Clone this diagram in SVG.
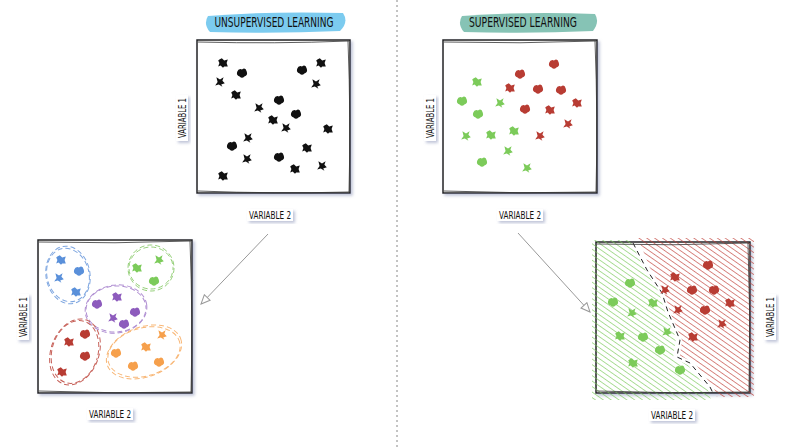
<svg xmlns="http://www.w3.org/2000/svg" width="800" height="447" viewBox="0 0 800 447">
<style>
.lbl{font-family:"DejaVu Sans Condensed","DejaVu Sans",sans-serif;font-size:10.5px;fill:#111;text-anchor:middle;dominant-baseline:central}
.ttl{font-family:"DejaVu Sans Condensed","DejaVu Sans",sans-serif;font-size:13.5px;fill:#111;text-anchor:middle;dominant-baseline:central}
.box{fill:#fff;stroke:#222;stroke-width:1.5}
.sk{fill:none;stroke:#333;stroke-width:0.8}
.lb{fill:#fff}
.k{fill:#111}.g{fill:#7ccb5a}.r{fill:#b83c33}.bl{fill:#5a90da}.pu{fill:#8d5bbd}.o{fill:#f6a04c}
.ell{fill:none;stroke-width:1;stroke-dasharray:5 3}
.conn{fill:none;stroke:#999;stroke-width:1}
</style>
<defs>
<filter id="sh" x="-20%" y="-20%" width="140%" height="140%">
<feDropShadow dx="2" dy="2" stdDeviation="1.5" flood-color="#8a93b8" flood-opacity="0.55"/>
</filter>
<path id="b1" d="M-3.6,-3.6 L-1.2,-4.8 L1.2,-2.4 L4.8,-3.6 L3.6,0 L4.8,3.6 L1.2,3.6 L0,4.8 L-2.4,2.4 L-4.8,3.6 L-3.6,0 L-4.8,-2.4 Z"/>
<path id="b2" d="M-4.8,-1.2 Q-3.6,-4.8 0,-3.6 Q3.6,-6 4.8,-1.2 Q6,2.4 2.4,3.6 Q0,6 -2.4,3.6 Q-6,2.4 -4.8,-1.2 Z"/>
<path id="b3" d="M-3.6,-4.8 L0,-2.4 L3.6,-4.8 L2.4,-1.2 L4.8,1.2 L1.2,2.4 L2.4,4.8 L-1.2,2.4 L-4.8,3.6 L-2.4,0 Z"/>
<pattern id="hg" width="4.5" height="4.5" patternUnits="userSpaceOnUse" patternTransform="rotate(-55)">
<line x1="0" y1="0" x2="0" y2="4.5" stroke="#79c957" stroke-width="1.2"/>
</pattern>
<pattern id="hr" width="4.5" height="4.5" patternUnits="userSpaceOnUse" patternTransform="rotate(-55)">
<line x1="0" y1="0" x2="0" y2="4.5" stroke="#bf3e36" stroke-width="1.2"/>
</pattern>
<marker id="ah" markerWidth="12" markerHeight="10" refX="10" refY="5" orient="auto" markerUnits="userSpaceOnUse">
<path d="M1,1 L10,5 L1,9 Z" fill="#fff" stroke="#999" stroke-width="1"/>
</marker>
</defs>
<rect width="800" height="447" fill="#fff"/>

<line x1="397" y1="0" x2="397" y2="447" stroke="#888" stroke-width="1" stroke-dasharray="2 3"/>

<g id="title-unsupervised">
<path d="M208,16 Q270,11 343,13 Q349,22 340,31 Q275,34 210,32 Q203,24 208,16 Z" fill="#7ccbef"/>
<text class="ttl" x="274" y="22" textLength="119" lengthAdjust="spacingAndGlyphs">UNSUPERVISED LEARNING</text>
</g>
<g id="title-supervised">
<path d="M462,16 Q530,11 595,14 Q600,22 593,31 Q530,34 464,32 Q457,24 462,16 Z" fill="#86c3b5"/>
<text class="ttl" x="523" y="22" textLength="108" lengthAdjust="spacingAndGlyphs">SUPERVISED LEARNING</text>
</g>

<g id="unsupervised-data">
<rect class="box" x="197" y="40" width="153" height="153" filter="url(#sh)"/>
<path class="sk" d="M198,42 Q275,44 349,41 M348,41 Q351,118 349,192 M198,191 Q275,194 349,192"/>
<use href="#b1" class="k" x="223" y="63"/><use href="#b2" class="k" x="242" y="73"/><use href="#b3" class="k" x="220" y="82"/>
<use href="#b2" class="k" x="302" y="70"/><use href="#b1" class="k" x="321" y="63"/><use href="#b3" class="k" x="316" y="84"/>
<use href="#b1" class="k" x="236" y="95"/><use href="#b2" class="k" x="279" y="100"/><use href="#b3" class="k" x="259" y="108"/>
<use href="#b2" class="k" x="296" y="114"/><use href="#b1" class="k" x="273" y="120"/><use href="#b3" class="k" x="286" y="128"/>
<use href="#b1" class="k" x="328" y="129"/><use href="#b3" class="k" x="248" y="138"/><use href="#b2" class="k" x="232" y="146"/>
<use href="#b1" class="k" x="307" y="148"/><use href="#b3" class="k" x="247" y="159"/><use href="#b2" class="k" x="279" y="157"/>
<use href="#b1" class="k" x="295" y="169"/><use href="#b3" class="k" x="322" y="166"/><use href="#b1" class="k" x="223" y="176"/>
<rect class="lb" x="176" y="95" width="12" height="46" filter="url(#sh)"/>
<text class="lbl" transform="translate(182,118) rotate(-90)" textLength="40" lengthAdjust="spacingAndGlyphs">VARIABLE 1</text>
<rect class="lb" x="247" y="209" width="46" height="12" filter="url(#sh)"/>
<text class="lbl" x="270" y="215" textLength="42" lengthAdjust="spacingAndGlyphs">VARIABLE 2</text>
</g>

<g id="supervised-data">
<rect class="box" x="443" y="40" width="154" height="153" filter="url(#sh)"/>
<path class="sk" d="M444,42 Q520,44 596,41 M595,41 Q598,118 596,192 M444,191 Q520,194 596,192"/>
<use href="#b1" class="g" x="477" y="82"/><use href="#b2" class="g" x="462" y="101"/><use href="#b3" class="g" x="500" y="103"/>
<use href="#b2" class="g" x="478" y="114"/><use href="#b3" class="g" x="466" y="136"/><use href="#b1" class="g" x="491" y="135"/>
<use href="#b1" class="g" x="514" y="131"/><use href="#b3" class="g" x="508" y="151"/><use href="#b2" class="g" x="482" y="162"/>
<use href="#b3" class="g" x="527" y="168"/>
<use href="#b2" class="r" x="554" y="64"/><use href="#b2" class="r" x="520" y="74"/><use href="#b1" class="r" x="510" y="88"/>
<use href="#b2" class="r" x="538" y="89"/><use href="#b2" class="r" x="561" y="90"/><use href="#b1" class="r" x="577" y="103"/>
<use href="#b2" class="r" x="525" y="109"/><use href="#b1" class="r" x="550" y="110"/><use href="#b3" class="r" x="568" y="124"/>
<use href="#b3" class="r" x="540" y="136"/>
<rect class="lb" x="424" y="95" width="12" height="46" filter="url(#sh)"/>
<text class="lbl" transform="translate(430,118) rotate(-90)" textLength="40" lengthAdjust="spacingAndGlyphs">VARIABLE 1</text>
<rect class="lb" x="497" y="209" width="46" height="12" filter="url(#sh)"/>
<text class="lbl" x="520" y="215" textLength="42" lengthAdjust="spacingAndGlyphs">VARIABLE 2</text>
</g>

<g id="clustering-result">
<rect class="box" x="38" y="240" width="154" height="153" filter="url(#sh)"/>
<path class="sk" d="M39,242 Q115,244 191,241 M190,241 Q193,318 191,392 M39,391 Q115,394 191,392"/>
<ellipse class="ell" cx="68" cy="275" rx="22" ry="29" stroke="#7ea6e0" transform="rotate(-10 68 275)"/>
<ellipse class="ell" cx="68" cy="275" rx="21" ry="27" stroke="#7ea6e0" transform="rotate(-14 68 275)" stroke-dashoffset="3"/>
<ellipse class="ell" cx="151" cy="268" rx="23" ry="23" stroke="#96d07a"/>
<ellipse class="ell" cx="151" cy="268" rx="22" ry="21" stroke="#96d07a" stroke-dashoffset="3"/>
<ellipse class="ell" cx="116" cy="309" rx="31" ry="24" stroke="#b08fd2" transform="rotate(-8 116 309)"/>
<ellipse class="ell" cx="116" cy="309" rx="30" ry="23" stroke="#b08fd2" transform="rotate(-4 116 309)" stroke-dashoffset="3"/>
<ellipse class="ell" cx="75" cy="352" rx="24" ry="34" stroke="#c7625a" transform="rotate(20 75 352)"/>
<ellipse class="ell" cx="75" cy="352" rx="23" ry="32" stroke="#c7625a" transform="rotate(16 75 352)" stroke-dashoffset="3"/>
<ellipse class="ell" cx="144" cy="352" rx="39" ry="25" stroke="#f8b777" transform="rotate(-20 144 352)"/>
<ellipse class="ell" cx="144" cy="352" rx="37" ry="24" stroke="#f8b777" transform="rotate(-16 144 352)" stroke-dashoffset="3"/>
<use href="#b1" class="bl" x="61" y="260"/><use href="#b2" class="bl" x="79" y="271"/><use href="#b3" class="bl" x="59" y="278"/><use href="#b1" class="bl" x="76" y="292"/>
<use href="#b1" class="g" x="137" y="268"/><use href="#b3" class="g" x="159" y="260"/><use href="#b2" class="g" x="154" y="281"/>
<use href="#b2" class="pu" x="97" y="304"/><use href="#b1" class="pu" x="117" y="297"/><use href="#b2" class="pu" x="135" y="312"/><use href="#b3" class="pu" x="113" y="318"/><use href="#b2" class="pu" x="124" y="324"/>
<use href="#b2" class="r" x="85" y="334"/><use href="#b1" class="r" x="69" y="342"/><use href="#b2" class="r" x="85" y="356"/><use href="#b1" class="r" x="62" y="372"/>
<use href="#b3" class="o" x="162" y="335"/><use href="#b1" class="o" x="146" y="347"/><use href="#b2" class="o" x="116" y="353"/><use href="#b2" class="o" x="133" y="366"/><use href="#b2" class="o" x="159" y="362"/>
<rect class="lb" x="17" y="294" width="12" height="46" filter="url(#sh)"/>
<text class="lbl" transform="translate(23,317) rotate(-90)" textLength="40" lengthAdjust="spacingAndGlyphs">VARIABLE 1</text>
<rect class="lb" x="87" y="408" width="46" height="12" filter="url(#sh)"/>
<text class="lbl" x="110" y="414" textLength="42" lengthAdjust="spacingAndGlyphs">VARIABLE 2</text>
</g>

<g id="classification-result">
<rect class="box" x="596" y="242" width="154" height="151" filter="url(#sh)"/>
<polygon points="592,240 630,240 644,268 659,292 665,312 676,338 673,358 688,365 708,390 711,400 592,400" fill="url(#hg)"/>
<polygon points="638,238 754,238 754,397 717,397 714,388 694,362 680,356 682,340 670,312 664,292 650,268" fill="url(#hr)"/>
<path d="M633,243 L647,270 L662,293 L668,312 L680,340 L677,357 L690,363 L710,387 L713,393" fill="none" stroke="#222" stroke-width="1" stroke-dasharray="5 4"/>
<path class="sk" d="M597,244 Q673,246 749,243 M748,243 Q751,318 749,392 M597,391 Q673,394 749,392"/>
<use href="#b2" class="g" x="630" y="283"/><use href="#b2" class="g" x="613" y="302"/><use href="#b1" class="g" x="653" y="303"/>
<use href="#b3" class="g" x="632" y="313"/><use href="#b1" class="g" x="620" y="336"/><use href="#b2" class="g" x="643" y="337"/>
<use href="#b3" class="g" x="667" y="332"/><use href="#b2" class="g" x="660" y="350"/><use href="#b1" class="g" x="633" y="363"/>
<use href="#b2" class="g" x="680" y="370"/>
<use href="#b2" class="r" x="708" y="265"/><use href="#b1" class="r" x="675" y="277"/><use href="#b3" class="r" x="665" y="290"/>
<use href="#b2" class="r" x="692" y="290"/><use href="#b2" class="r" x="714" y="290"/><use href="#b1" class="r" x="730" y="303"/>
<use href="#b3" class="r" x="678" y="310"/><use href="#b2" class="r" x="705" y="310"/><use href="#b3" class="r" x="722" y="324"/>
<use href="#b1" class="r" x="693" y="337"/>
<rect class="lb" x="764" y="294" width="12" height="46" filter="url(#sh)"/>
<text class="lbl" transform="translate(770,317) rotate(-90)" textLength="40" lengthAdjust="spacingAndGlyphs">VARIABLE 1</text>
<rect class="lb" x="649" y="409" width="46" height="12" filter="url(#sh)"/>
<text class="lbl" x="672" y="415" textLength="42" lengthAdjust="spacingAndGlyphs">VARIABLE 2</text>
</g>

<g id="connectors">
<path class="conn" d="M268,234 L201,304" marker-end="url(#ah)"/>
<path class="conn" d="M518,233 L590,312" marker-end="url(#ah)"/>
</g>
</svg>
